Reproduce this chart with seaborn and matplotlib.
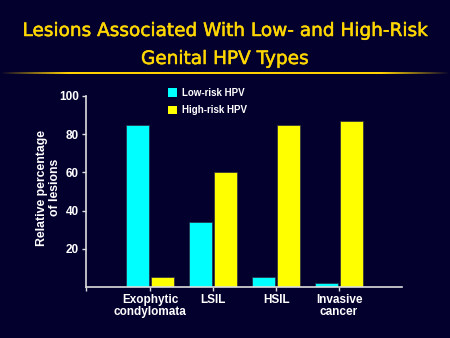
import numpy as np
import pandas as pd
import matplotlib
matplotlib.use("Agg")
import matplotlib.pyplot as plt
import matplotlib.patheffects as pe
import seaborn as sns
from matplotlib.patches import Patch

categories = ["Exophytic\ncondylomata", "LSIL", "HSIL", "Invasive\ncancer"]
low_risk = [85, 34, 5, 2]
high_risk = [5, 60, 85, 87]
series_names = ["Low-risk HPV", "High-risk HPV"]
yticks = [20, 40, 60, 80, 100]
title_lines = ["Lesions Associated With Low- and High-Risk", "Genital HPV Types"]

BG = "#03002e"
CYAN = "#00ffff"
YELLOW = "#ffff00"
GOLD = "#ffd700"
AXFONT = ["Liberation Sans", "DejaVu Sans"]

df = pd.DataFrame({
    "cat": categories * 2,
    "val": low_risk + high_risk,
    "series": [series_names[0]] * 4 + [series_names[1]] * 4,
})

sns.set_theme(style="white")
plt.rcParams["font.family"] = ["DejaVu Sans"]

fig = plt.figure(figsize=(4.5, 3.38), dpi=100, facecolor=BG)
ax = fig.add_axes([86 / 450, 1 - 287 / 338, (402 - 86) / 450, (287 - 96) / 338])
ax.set_facecolor(BG)

sns.barplot(data=df, x="cat", y="val", hue="series", order=categories,
            hue_order=series_names, palette=[CYAN, YELLOW], saturation=1,
            width=0.8, gap=0.1, edgecolor="#2a2a40", linewidth=0.5, ax=ax,
            legend=False)

ax.set_xlim(-1.02, 4.0)
ax.set_ylim(0, 100)
ax.set_yticks(yticks)
ax.set_xticks([-1.02, 0, 1, 2, 3])
ax.set_xticklabels([""] + categories)
for s in ["top", "right"]:
    ax.spines[s].set_visible(False)
for s in ["left", "bottom"]:
    ax.spines[s].set_color("#dddddd")
    ax.spines[s].set_linewidth(1.2)
ax.tick_params(axis="both", colors="#dddddd", length=3, width=1, direction="out",
               labelcolor="white", left=True, bottom=True, pad=2)
for lbl in ax.get_xticklabels() + ax.get_yticklabels():
    lbl.set_fontweight("bold")
    lbl.set_family(AXFONT)
    lbl.set_fontsize(8.5)
    lbl.set_linespacing(1.05)
ax.set_xlabel("")
ax.set_ylabel("Relative percentage\nof lesions", color="white", fontsize=8.8,
              fontweight="bold", family=AXFONT, linespacing=1.2)
ax.yaxis.set_label_coords(-0.078, 0.52)

handles = [Patch(facecolor=CYAN, edgecolor="none"), Patch(facecolor=YELLOW, edgecolor="none")]
leg = fig.legend(handles, series_names, loc="upper left",
                 bbox_to_anchor=(159 / 450, 1 - 79 / 338), frameon=False,
                 handlelength=0.95, handleheight=0.95, handletextpad=0.55,
                 labelspacing=0.75, prop={"size": 7.0, "weight": "bold", "family": AXFONT})
for t in leg.get_texts():
    t.set_color("white")

for i, yy in enumerate([31, 59]):
    fig.text(0.5, 1 - yy / 338, title_lines[i], ha="center", va="center",
             color=GOLD, fontsize=13.3,
             path_effects=[pe.withStroke(linewidth=0.35, foreground=GOLD)])

lax = fig.add_axes([0, 1 - 74 / 338, 1, 2 / 338])
lax.axis("off")
xg = np.linspace(0, 1, 450)
alpha = np.clip(np.sin(np.pi * xg) * 2.2, 0, 1)
img = np.zeros((1, 450, 4))
img[..., 0] = 1.0
img[..., 1] = 0.82
img[..., 2] = 0.0
img[..., 3] = alpha
lax.imshow(img, aspect="auto", extent=[0, 1, 0, 1])

fig.savefig("out.png", dpi=100, facecolor=BG)
